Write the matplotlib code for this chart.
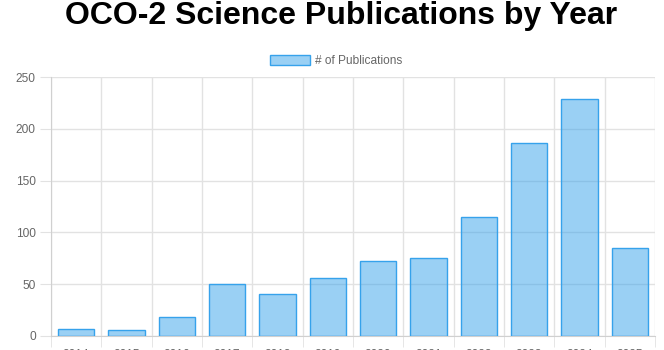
import matplotlib
matplotlib.use("Agg")
import matplotlib.pyplot as plt
from matplotlib.patches import Patch
import numpy as np

years = ["2014", "2015", "2016", "2017", "2018", "2019", "2020", "2021", "2022", "2023", "2024", "2025"]
publications = [7, 6, 18, 50, 41, 56, 72, 75, 115, 186, 229, 85]
y_ticks = [0, 50, 100, 150, 200, 250]

plt.rcParams['font.family'] = ['Liberation Sans', 'DejaVu Sans']

W, H = 664, 350
fig = plt.figure(figsize=(W / 100, H / 100), dpi=100)
ax = fig.add_axes([51 / W, (H - 336) / H, 604 / W, 259 / H])

fill = (54 / 255, 162 / 255, 235 / 255, 0.5)
edge = (54 / 255, 162 / 255, 235 / 255, 1.0)
grid_c = '#e2e2e2'

x = np.arange(len(years))
ax.bar(x, publications, width=0.72, color=fill, edgecolor=edge, linewidth=1, zorder=3)

ax.set_xlim(-0.5, len(years) - 0.5)
ax.set_ylim(0, 250)
ax.set_yticks(y_ticks)
ax.set_xticks(x)
ax.set_xticklabels(years)
ax.set_xticks(np.arange(len(years) + 1) - 0.5, minor=True)

ax.grid(axis='y', which='major', color=grid_c, linewidth=1, zorder=0)
ax.grid(axis='x', which='minor', color=grid_c, linewidth=1, zorder=0)
# x labels sit at the bottom edge, cut off as in the original screenshot
ax.tick_params(axis='x', which='major', length=0, pad=9.5, labelsize=8.6, labelcolor='#666666')
ax.tick_params(axis='x', which='minor', length=8, color=grid_c)
ax.tick_params(axis='y', length=8, color=grid_c, pad=3, labelsize=8.6, labelcolor='#666666')

for s in ['top', 'right']:
    ax.spines[s].set_visible(False)
for s in ['left', 'bottom']:
    ax.spines[s].set_color('#d0d0d0')

fig.text(341 / W, 1 - 24 / H, "OCO-2 Science Publications by Year", ha='center', va='baseline',
         fontsize=23, fontweight='bold', color='black')

handle = Patch(facecolor=fill, edgecolor=edge, linewidth=1)
fig.legend([handle], ["# of Publications"], loc='center', bbox_to_anchor=(336 / W, 1 - 61 / H),
           frameon=False, fontsize=8.6, labelcolor='#666666', handlelength=3.33, handleheight=1.0,
           handletextpad=0.45, borderpad=0)

fig.savefig("out.png", dpi=100)
